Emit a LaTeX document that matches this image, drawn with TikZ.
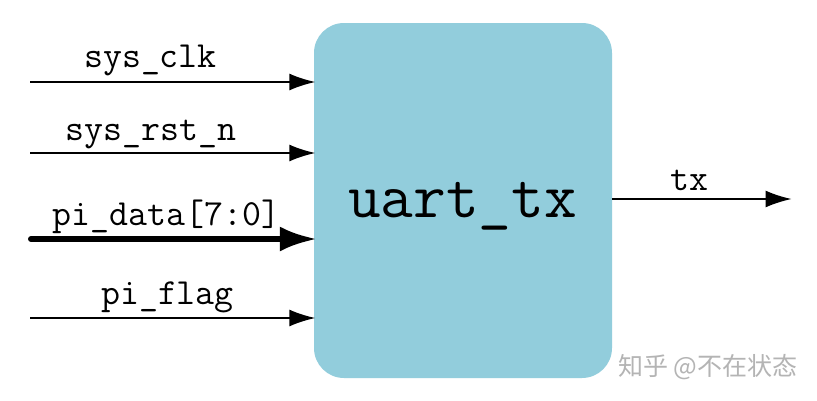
\documentclass[tikz,border=0pt]{standalone}
\usepackage{fontspec}
\newfontfamily\cjk{Noto Sans CJK SC}
\usetikzlibrary{arrows.meta}
\definecolor{boxblue}{HTML}{92CDDC}
\definecolor{markgrey}{HTML}{B4B4B4}
\begin{document}
\begin{tikzpicture}[x=1pt,y=-1pt,
 lab/.style={inner sep=0pt,font=\ttfamily\fontsize{36.8}{37}\selectfont,anchor=base},
 sig/.style={line width=1.7pt,shorten >=-1.5pt,-{Latex[length=26pt,width=17pt]}},
 bus/.style={line width=6pt,line cap=round,shorten >=-3pt,-{Latex[length=37pt,width=25pt]}}]
\useasboundingbox (0,0) rectangle (817,400);
\fill[white] (0,0) rectangle (817,400);
\node[fill=boxblue,minimum width=298pt,minimum height=355pt,rounded corners=30pt,inner sep=0pt] (box) at (463,200.5) {};
\node[inner sep=0pt,anchor=base,font=\ttfamily\fontsize{63.5}{64}\selectfont] (title) at (462.5,217) {uart\_tx};
\coordinate (a) at (30,82);
\coordinate (b) at (30,153);
\coordinate (c) at (31,239);
\coordinate (d) at (30,318);
\coordinate (e) at (790,199);
\draw[sig] (a) -- (a -| box.west);
\draw[sig] (b) -- (b -| box.west);
\draw[bus] (c) -- (c -| box.west);
\draw[sig] (d) -- (d -| box.west);
\draw[sig] (e -| box.east) -- (e);
\node[lab] (l1) at (150.5,67) {sys\_clk};
\node[lab] (l2) at (151,140) {sys\_rst\_n};
\node[lab] (l3) at (166.5,225) {pi\_data[7:0]};
\node[lab] (l4) at (167.5,304) {pi\_flag};
\node[lab] (l5) at (689,190) {tx};
\node[inner sep=0pt,text=markgrey,font=\cjk\fontsize{25}{25}\selectfont] (mark) at (708,367) {知乎 @不在状态};
\end{tikzpicture}
\end{document}
